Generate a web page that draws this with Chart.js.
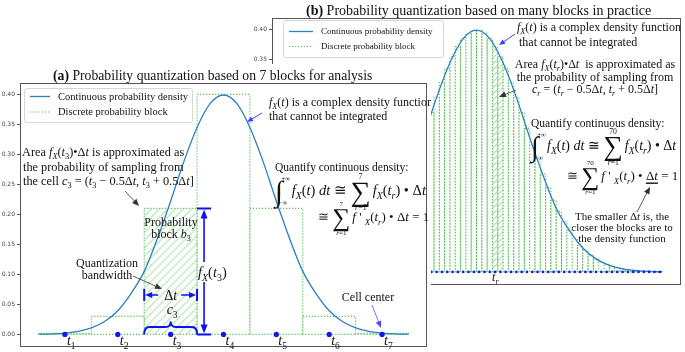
<!DOCTYPE html>
<html>
<head>
<meta charset="utf-8">
<script src="https://cdn.jsdelivr.net/npm/chart.js@4.4.0/dist/chart.umd.min.js"></script>
<style>
  body { margin: 0; background: #fff; width: 685px; height: 352px; position: relative; overflow: hidden; }
  #wb { position: absolute; left: 245px; top: 0; width: 440px; height: 290px; }
  #wa { position: absolute; left: 0; top: 64px; width: 431px; height: 288px; background: #fff; }
</style>
</head>
<body>
<div id="wb"><canvas id="cb" width="440" height="290"></canvas></div>
<div id="wa"><canvas id="ca" width="431" height="288"></canvas></div>
<script>
// density curve
const curveT = [-3.5,-3.25,-3,-2.75,-2.5,-2.25,-2,-1.75,-1.5,-1.25,-1,-0.75,-0.5,-0.25,0,0.25,0.5,0.75,1,1.25,1.5,1.75,2,2.25,2.5,2.75,3,3.25,3.5];
const curveF = [0.0003,0.0009,0.0022,0.005,0.0108,0.0214,0.0395,0.068,0.105,0.16,0.222,0.288,0.345,0.385,0.399,0.385,0.345,0.288,0.222,0.16,0.105,0.068,0.0395,0.0214,0.0108,0.005,0.0022,0.0009,0.0003];

// panel (a): 7 blocks
const blockT = [-3, -2, -1, 0, 1, 2, 3];
const blockH = [0.002, 0.03, 0.21, 0.40, 0.21, 0.03, 0.002];
const blockW = 1;

// panel (b): 70 blocks
const fineT = [-3.45,-3.35,-3.25,-3.15,-3.05,-2.95,-2.85,-2.75,-2.65,-2.55,-2.45,-2.35,-2.25,-2.15,-2.05,-1.95,-1.85,-1.75,-1.65,-1.55,-1.45,-1.35,-1.25,-1.15,-1.05,-0.95,-0.85,-0.75,-0.65,-0.55,-0.45,-0.35,-0.25,-0.15,-0.05,
               0.05,0.15,0.25,0.35,0.45,0.55,0.65,0.75,0.85,0.95,1.05,1.15,1.25,1.35,1.45,1.55,1.65,1.75,1.85,1.95,2.05,2.15,2.25,2.35,2.45,2.55,2.65,2.75,2.85,2.95,3.05,3.15,3.25,3.35,3.45];
const fineH = [0.0004,0.0006,0.0009,0.0013,0.0018,0.0026,0.0036,0.005,0.0069,0.0093,0.0124,0.0164,0.0214,0.0276,0.0352,0.0443,0.0552,0.068,0.0827,0.0995,0.1184,0.1392,0.1617,0.1858,0.211,0.2368,0.2628,0.288,0.3125,0.335,0.355,0.3717,0.3848,0.3939,0.3984,
               0.3984,0.3939,0.3848,0.3717,0.355,0.335,0.3125,0.288,0.2628,0.2368,0.211,0.1858,0.1617,0.1392,0.1184,0.0995,0.0827,0.068,0.0552,0.0443,0.0352,0.0276,0.0214,0.0164,0.0124,0.0093,0.0069,0.005,0.0036,0.0026,0.0018,0.0013,0.0009,0.0006,0.0004];
const fineW = 0.1;
const fineHatch = [38, 39];

const yTicks = [0, 0.05, 0.10, 0.15, 0.20, 0.25, 0.30, 0.35, 0.40];

const green = '#55c055';
const curveBlue = '#2a80c0';
const dotBlue = '#1515f0';
const SERIF = '"Liberation Serif","DejaVu Serif",serif';

// ---------- drawing helpers ----------
function fnt(style, sz) {
  return (style.includes('i') ? 'italic ' : '') + (style.includes('b') ? 'bold ' : '') + sz + 'px ' + SERIF;
}

// segs: [text, style]; styles n,i,b,s(sub italic),sn(sub normal),u(bold underline),ui,sum,int
function rich(ctx, x, y, segs, sz, align, color) {
  ctx.save();
  ctx.fillStyle = color || '#111';
  ctx.textAlign = 'left';
  ctx.textBaseline = 'alphabetic';
  const pass = (x0, draw) => {
    let cx = x0;
    for (const [t, st] of segs) {
      if (st === 's' || st === 'sn') {
        ctx.font = fnt(st === 's' ? 'i' : 'n', sz * 0.68);
        const w = ctx.measureText(t).width;
        if (draw) ctx.fillText(t, cx, y + sz * 0.27);
        cx += w;
      } else if (st === 'sum') {
        ctx.font = fnt('n', sz * 1.95);
        const w = ctx.measureText('∑').width;
        ctx.font = fnt('n', sz * 0.55);
        const bw = ctx.measureText('r=1').width;
        const ww = Math.max(w, bw);
        if (draw) {
          const mid = cx + ww / 2;
          ctx.font = fnt('n', sz * 1.95);
          ctx.fillText('∑', mid - w / 2, y + sz * 0.38);
          ctx.font = fnt('n', sz * 0.55);
          ctx.fillText(t, mid - ctx.measureText(t).width / 2, y - sz * 1.12);
          ctx.font = fnt('i', sz * 0.55);
          const rw = ctx.measureText('r').width;
          ctx.fillText('r', mid - bw / 2, y + sz * 1.05);
          ctx.font = fnt('n', sz * 0.55);
          ctx.fillText('=1', mid - bw / 2 + rw, y + sz * 1.05);
        }
        cx += ww + 2;
      } else if (st === 'int') {
        ctx.font = fnt('n', sz * 2.0);
        const w = ctx.measureText('∫').width;
        if (draw) {
          ctx.fillText('∫', cx, y + sz * 0.42);
          ctx.font = fnt('n', sz * 0.48);
          ctx.fillText('+∞', cx + w * 0.8, y - sz * 0.95);
          ctx.fillText('−∞', cx + w * 0.45, y + sz * 0.72);
        }
        cx += w + sz * 0.6;
      } else {
        ctx.font = fnt(st, sz);
        const w = ctx.measureText(t).width;
        if (draw) {
          ctx.fillText(t, cx, y);
          if (st.includes('u')) ctx.fillRect(cx, y + 2.5, w, 1.4);
        }
        cx += w;
      }
    }
    return cx - x0;
  };
  const total = pass(0, false);
  const x0 = align === 'center' ? x - total / 2 : align === 'right' ? x - total : x;
  pass(x0, true);
  ctx.restore();
  return total;
}

function arrow(ctx, x1, y1, x2, y2, color, lw, hl, hw) {
  const a = Math.atan2(y2 - y1, x2 - x1), c = Math.cos(a), s = Math.sin(a);
  ctx.save();
  ctx.strokeStyle = color; ctx.fillStyle = color; ctx.lineWidth = lw;
  ctx.beginPath(); ctx.moveTo(x1, y1); ctx.lineTo(x2 - c * hl * 0.8, y2 - s * hl * 0.8); ctx.stroke();
  ctx.beginPath(); ctx.moveTo(x2, y2);
  ctx.lineTo(x2 - hl * c + hw * s, y2 - hl * s - hw * c);
  ctx.lineTo(x2 - hl * c - hw * s, y2 - hl * s + hw * c);
  ctx.closePath(); ctx.fill();
  ctx.restore();
}

function legendBox(ctx, x, y, w, h, items, sz) {
  ctx.save();
  ctx.fillStyle = 'rgba(255,255,255,0.9)';
  ctx.strokeStyle = '#d6d6d6';
  ctx.lineWidth = 1;
  ctx.beginPath(); ctx.roundRect(x + 0.5, y + 0.5, w, h, 2); ctx.fill(); ctx.stroke();
  for (const it of items) {
    ctx.strokeStyle = it.color; ctx.lineWidth = it.lw; ctx.setLineDash(it.dash);
    ctx.beginPath(); ctx.moveTo(it.x0, it.y); ctx.lineTo(it.x1, it.y); ctx.stroke();
    ctx.setLineDash([]);
    rich(ctx, it.tx, it.y + sz * 0.33, [[it.text, 'n']], sz, 'left');
  }
  ctx.restore();
}

function frame(ctx, ca) {
  ctx.save();
  ctx.strokeStyle = '#555'; ctx.lineWidth = 1;
  ctx.strokeRect(Math.round(ca.left) + 0.5, Math.round(ca.top) + 0.5, Math.round(ca.right - ca.left) - 1, Math.round(ca.bottom - ca.top));
  ctx.restore();
}

function hatch(ctx, l, r, top, bottom, gap) {
  ctx.save();
  ctx.beginPath(); ctx.rect(l, top, r - l, bottom - top); ctx.clip();
  ctx.strokeStyle = 'rgba(90,205,90,0.7)'; ctx.lineWidth = 1;
  const h = bottom - top;
  ctx.beginPath();
  for (let x = l - h; x < r; x += gap) { ctx.moveTo(x, bottom); ctx.lineTo(x + h, top); }
  ctx.stroke();
  ctx.restore();
}

function rectPath(ts, hs, w) {
  const pts = [];
  ts.forEach((t, i) => {
    const l = t - w / 2, r = t + w / 2;
    pts.push({x: l, y: 0}, {x: l, y: hs[i]}, {x: r, y: hs[i]}, {x: r, y: 0}, {x: l, y: 0}, {x: r, y: null});
  });
  return pts;
}

function scales(yw) {
  return {
    x: { type: 'linear', min: -3.85, max: 3.85, display: false },
    y: {
      type: 'linear', min: -0.02, max: 0.419,
      afterBuildTicks: ax => { ax.ticks = yTicks.map(v => ({ value: v })); },
      afterFit: ax => { ax.width = yw; },
      grid: { display: true, drawOnChartArea: false, drawTicks: true, tickLength: 3, tickColor: '#555' },
      border: { display: false },
      ticks: { font: { family: 'DejaVu Sans', size: 6 }, color: '#444', padding: 2, callback: v => v.toFixed(2) }
    }
  };
}

function datasets(ts, hs, w, dotR, dotT) {
  return [
    { data: curveT.map((t, i) => ({ x: t, y: curveF[i] })), showLine: true, borderColor: curveBlue, borderWidth: 1.3,
      pointRadius: 0, cubicInterpolationMode: 'monotone', order: 1 },
    { data: rectPath(ts, hs, w), showLine: true, borderColor: green, borderWidth: 1.1, borderDash: [1.2, 1.8],
      pointRadius: 0, spanGaps: false, order: 2 },
    { data: dotT.map(t => ({ x: t, y: 0 })), showLine: false, pointRadius: dotR, pointBackgroundColor: dotBlue,
      pointBorderWidth: 0, order: 0 }
  ];
}

const baseOpts = (pad, yw) => ({
  responsive: false, animation: false, events: [],
  layout: { padding: pad },
  plugins: { legend: { display: false }, tooltip: { enabled: false } },
  scales: scales(yw)
});

// ---------- panel (b) ----------
new Chart(document.getElementById('cb'), {
  type: 'scatter',
  data: { datasets: datasets(fineT, fineH, fineW, 1.3, fineT) },
  options: baseOpts({ left: 0, right: 3, top: 18, bottom: 6 }, 27),
  plugins: [{
    id: 'annB',
    beforeDatasetsDraw(chart) {
      const { ctx, scales: { x, y } } = chart;
      fineHatch.forEach(i => {
        hatch(ctx, x.getPixelForValue(fineT[i] - fineW / 2), x.getPixelForValue(fineT[i] + fineW / 2),
              y.getPixelForValue(fineH[i]), y.getPixelForValue(0), 6);
      });
    },
    afterDraw(chart) {
      const { ctx, scales: { x, y } } = chart;
      frame(ctx, chart.chartArea);
      ctx.save();
      ctx.translate(-245, 0);
      rich(ctx, 306, 14.5, [['(b)', 'b'], [' Probability quantization based on many blocks in practice', 'n']], 14, 'left');
      legendBox(ctx, 283, 20, 160, 37, [
        { color: curveBlue, lw: 1.3, dash: [], x0: 289, x1: 313, y: 31.5, tx: 321, text: 'Continuous probability density' },
        { color: green, lw: 1.1, dash: [1.2, 1.8], x0: 289, x1: 313, y: 46.5, tx: 321, text: 'Discrete probability block' }
      ], 9);
      rich(ctx, 517, 31, [['f', 'i'], ['X', 's'], ['(', 'n'], ['t', 'i'], [') is a complex density function', 'n']], 12, 'left');
      rich(ctx, 519, 46, [['that cannot be integrated', 'n']], 12, 'left');
      arrow(ctx, 515, 34, 499, 45, '#3d3dff', 1, 6, 2.5);
      rich(ctx, 595, 67.5, [['Area ', 'n'], ['f', 'i'], ['X', 's'], ['(', 'n'], ['t', 'i'], ['r', 's'], [')•Δ', 'n'], ['t', 'i'], ['  is approximated as', 'n']], 12, 'center');
      rich(ctx, 595, 81, [['the probability of sampling from', 'n']], 12, 'center');
      rich(ctx, 595, 93, [['c', 'i'], ['r', 's'], [' = (', 'n'], ['t', 'i'], ['r', 's'], [' − 0.5Δ', 'n'], ['t', 'i'], [', ', 'n'], ['t', 'i'], ['r', 's'], [' + 0.5Δ', 'n'], ['t', 'i'], [']', 'n']], 12, 'center');
      arrow(ctx, 516, 90, 499, 97, '#333', 0.8, 7, 3);
      rich(ctx, 531, 127, [['Quantify continuous density:', 'n']], 11.5, 'left');
      rich(ctx, 531, 150, [['', 'int'], ['f', 'i'], ['X', 's'], ['(', 'n'], ['t', 'i'], [') ', 'n'], ['dt', 'i'], [' ≅ ', 'n'], ['70', 'sum'],
        ['f', 'i'], ['X', 's'], ['(', 'n'], ['t', 'i'], ['r', 's'], [')', 'n'], [' • Δ', 'n'], ['t', 'i']], 14, 'left');
      rich(ctx, 567, 180, [['≅ ', 'n'], ['70', 'sum'], ['f', 'i'], [' \' ', 'n'], ['X', 's'], ['(', 'n'], ['t', 'i'], ['r', 's'], [')', 'n'],
        [' • ', 'n'], ['Δ', 'u'], ['t', 'ui'], [' = 1', 'n']], 13, 'left');
      arrow(ctx, 637, 212, 650, 187, '#333', 0.8, 7, 3);
      rich(ctx, 622, 220, [['The smaller Δ', 'n'], ['t', 'i'], [' is, the', 'n']], 11, 'center');
      rich(ctx, 622, 231, [['closer the blocks are to', 'n']], 11, 'center');
      rich(ctx, 622, 241.5, [['the density function', 'n']], 11, 'center');
      ctx.restore();
      const tx = x.getPixelForValue(fineT[fineHatch[0]]);
      rich(ctx, tx - 3, y.getPixelForValue(0) + 9, [['t', 'i'], ['r', 's']], 12, 'left');
    }
  }]
});

// ---------- panel (a) ----------
new Chart(document.getElementById('ca'), {
  type: 'scatter',
  data: { datasets: datasets(blockT, blockH, blockW, 2.6, blockT) },
  options: baseOpts({ left: 0, right: 2, top: 19, bottom: 3 }, 20),
  plugins: [{
    id: 'annA',
    beforeDatasetsDraw(chart) {
      const { ctx, scales: { x, y } } = chart;
      hatch(ctx, x.getPixelForValue(blockT[2] - blockW / 2), x.getPixelForValue(blockT[2] + blockW / 2),
            y.getPixelForValue(blockH[2]), y.getPixelForValue(0), 8);
    },
    afterDraw(chart) {
      const { ctx, scales: { x, y } } = chart;
      frame(ctx, chart.chartArea);
      const bl = x.getPixelForValue(blockT[2] - blockW / 2);
      const br = x.getPixelForValue(blockT[2] + blockW / 2);
      const y0 = y.getPixelForValue(0);
      const yh = y.getPixelForValue(blockH[2]);
      ctx.save();
      ctx.translate(0, -64);
      // measure markers (page coordinates from here)
      const Y0 = y0 + 64, YH = yh + 64;
      // f_X(t3) height marker
      const vx = br + 7;
      ctx.save(); ctx.strokeStyle = '#1010ee'; ctx.lineWidth = 2;
      ctx.beginPath(); ctx.moveTo(vx - 7, YH); ctx.lineTo(vx + 7, YH); ctx.moveTo(vx - 7, Y0); ctx.lineTo(vx + 7, Y0); ctx.stroke();
      ctx.restore();
      arrow(ctx, vx, (YH + Y0) / 2, vx, YH + 1, '#1010ee', 1.6, 9, 3.5);
      arrow(ctx, vx, (YH + Y0) / 2, vx, Y0 - 1, '#1010ee', 1.6, 9, 3.5);
      ctx.fillStyle = '#fff'; ctx.fillRect(vx - 6, 262, 30, 20);
      rich(ctx, vx - 6, 277, [['f', 'i'], ['X', 's'], ['(', 'n'], ['t', 'i'], ['3', 'sn'], [')', 'n']], 14.5, 'left');
      // delta t marker
      const dy = 295;
      ctx.save(); ctx.strokeStyle = '#1010ee'; ctx.lineWidth = 2;
      ctx.beginPath(); ctx.moveTo(bl, dy - 6); ctx.lineTo(bl, dy + 6); ctx.moveTo(br, dy - 6); ctx.lineTo(br, dy + 6); ctx.stroke();
      ctx.restore();
      arrow(ctx, bl + 14, dy, bl + 1, dy, '#1010ee', 1.5, 7, 3);
      arrow(ctx, br - 16, dy, br - 1, dy, '#1010ee', 1.5, 7, 3);
      rich(ctx, (bl + br) / 2, dy + 5, [['Δ', 'n'], ['t', 'i']], 14, 'center');
      // brace c3
      const xm = (bl + br) / 2, yb = Y0, ym = Y0 - 7.5, yt = Y0 - 13;
      ctx.save(); ctx.strokeStyle = '#1010ee'; ctx.lineWidth = 2;
      ctx.beginPath();
      ctx.moveTo(bl, yb); ctx.quadraticCurveTo(bl, ym, bl + 5, ym); ctx.lineTo(xm - 5, ym);
      ctx.quadraticCurveTo(xm, ym, xm, yt); ctx.quadraticCurveTo(xm, ym, xm + 5, ym);
      ctx.lineTo(br - 5, ym); ctx.quadraticCurveTo(br, ym, br, yb);
      ctx.stroke(); ctx.restore();
      rich(ctx, xm - 4, 314, [['c', 'i'], ['3', 'sn']], 14, 'left');

      rich(ctx, 53, 80, [['(a)', 'b'], [' Probability quantization based on 7 blocks for analysis', 'n']], 13.7, 'left');
      legendBox(ctx, 24, 88, 168, 34, [
        { color: curveBlue, lw: 1.3, dash: [], x0: 30, x1: 50, y: 96.5, tx: 58, text: 'Continuous probability density' },
        { color: green, lw: 1.1, dash: [1.2, 1.8], x0: 30, x1: 50, y: 112, tx: 58, text: 'Discrete probability block' }
      ], 10.5);
      rich(ctx, 269, 106, [['f', 'i'], ['X', 's'], ['(', 'n'], ['t', 'i'], [') is a complex density function', 'n']], 12, 'left');
      rich(ctx, 269, 119.5, [['that cannot be integrated', 'n']], 12, 'left');
      arrow(ctx, 262, 113, 247, 122, '#3d3dff', 1, 6, 2.5);
      rich(ctx, 22, 156, [['Area ', 'n'], ['f', 'i'], ['X', 's'], ['(', 'n'], ['t', 'i'], ['3', 'sn'], [')•Δ', 'n'], ['t', 'i'], [' is approximated as', 'n']], 12.3, 'left');
      rich(ctx, 23, 170.5, [['the probability of sampling from', 'n']], 12.3, 'left');
      rich(ctx, 23, 185, [['the cell ', 'n'], ['c', 'i'], ['3', 'sn'], [' = (', 'n'], ['t', 'i'], ['3', 'sn'], [' − 0.5Δ', 'n'], ['t', 'i'], [', ', 'n'],
        ['t', 'i'], ['3', 'sn'], [' + 0.5Δ', 'n'], ['t', 'i'], [']', 'n']], 12.3, 'left');
      arrow(ctx, 125, 191, 139, 206, '#333', 0.8, 7, 3);
      rich(ctx, 275, 171, [['Quantify continuous density:', 'n']], 11.5, 'left');
      rich(ctx, 275, 195, [['', 'int'], ['f', 'i'], ['X', 's'], ['(', 'n'], ['t', 'i'], [') ', 'n'], ['dt', 'i'], [' ≅ ', 'n'], ['7', 'sum'],
        ['f', 'i'], ['X', 's'], ['(', 'n'], ['t', 'i'], ['r', 's'], [')', 'n'], [' • Δ', 'n'], ['t', 'i']], 14.5, 'left');
      rich(ctx, 318, 221, [['≅ ', 'n'], ['7', 'sum'], ['f', 'i'], [' \' ', 'n'], ['X', 's'], ['(', 'n'], ['t', 'i'], ['r', 's'], [')', 'n'],
        [' • Δ', 'n'], ['t', 'i'], [' = 1', 'n']], 13, 'left');
      rich(ctx, 171, 226, [['Probability', 'n']], 12, 'center');
      rich(ctx, 171, 237.5, [['block ', 'n'], ['b', 'i'], ['3', 'sn']], 12, 'center');
      rich(ctx, 107, 267, [['Quantization', 'n']], 12, 'center');
      rich(ctx, 107, 278.5, [['bandwidth', 'n']], 12, 'center');
      arrow(ctx, 133, 276, 162, 289, '#333', 0.8, 7, 3);
      rich(ctx, 368, 301, [['Cell center', 'n']], 12, 'center');
      arrow(ctx, 372, 305, 381, 328, '#5050ff', 0.8, 7, 3);
      ctx.restore();
      blockT.forEach((t, i) => {
        rich(ctx, x.getPixelForValue(t) + 2, y0 + 11, [['t', 'i'], [String(i + 1), 'sn']], 14, 'left');
      });
    }
  }]
});
</script>
</body>
</html>
